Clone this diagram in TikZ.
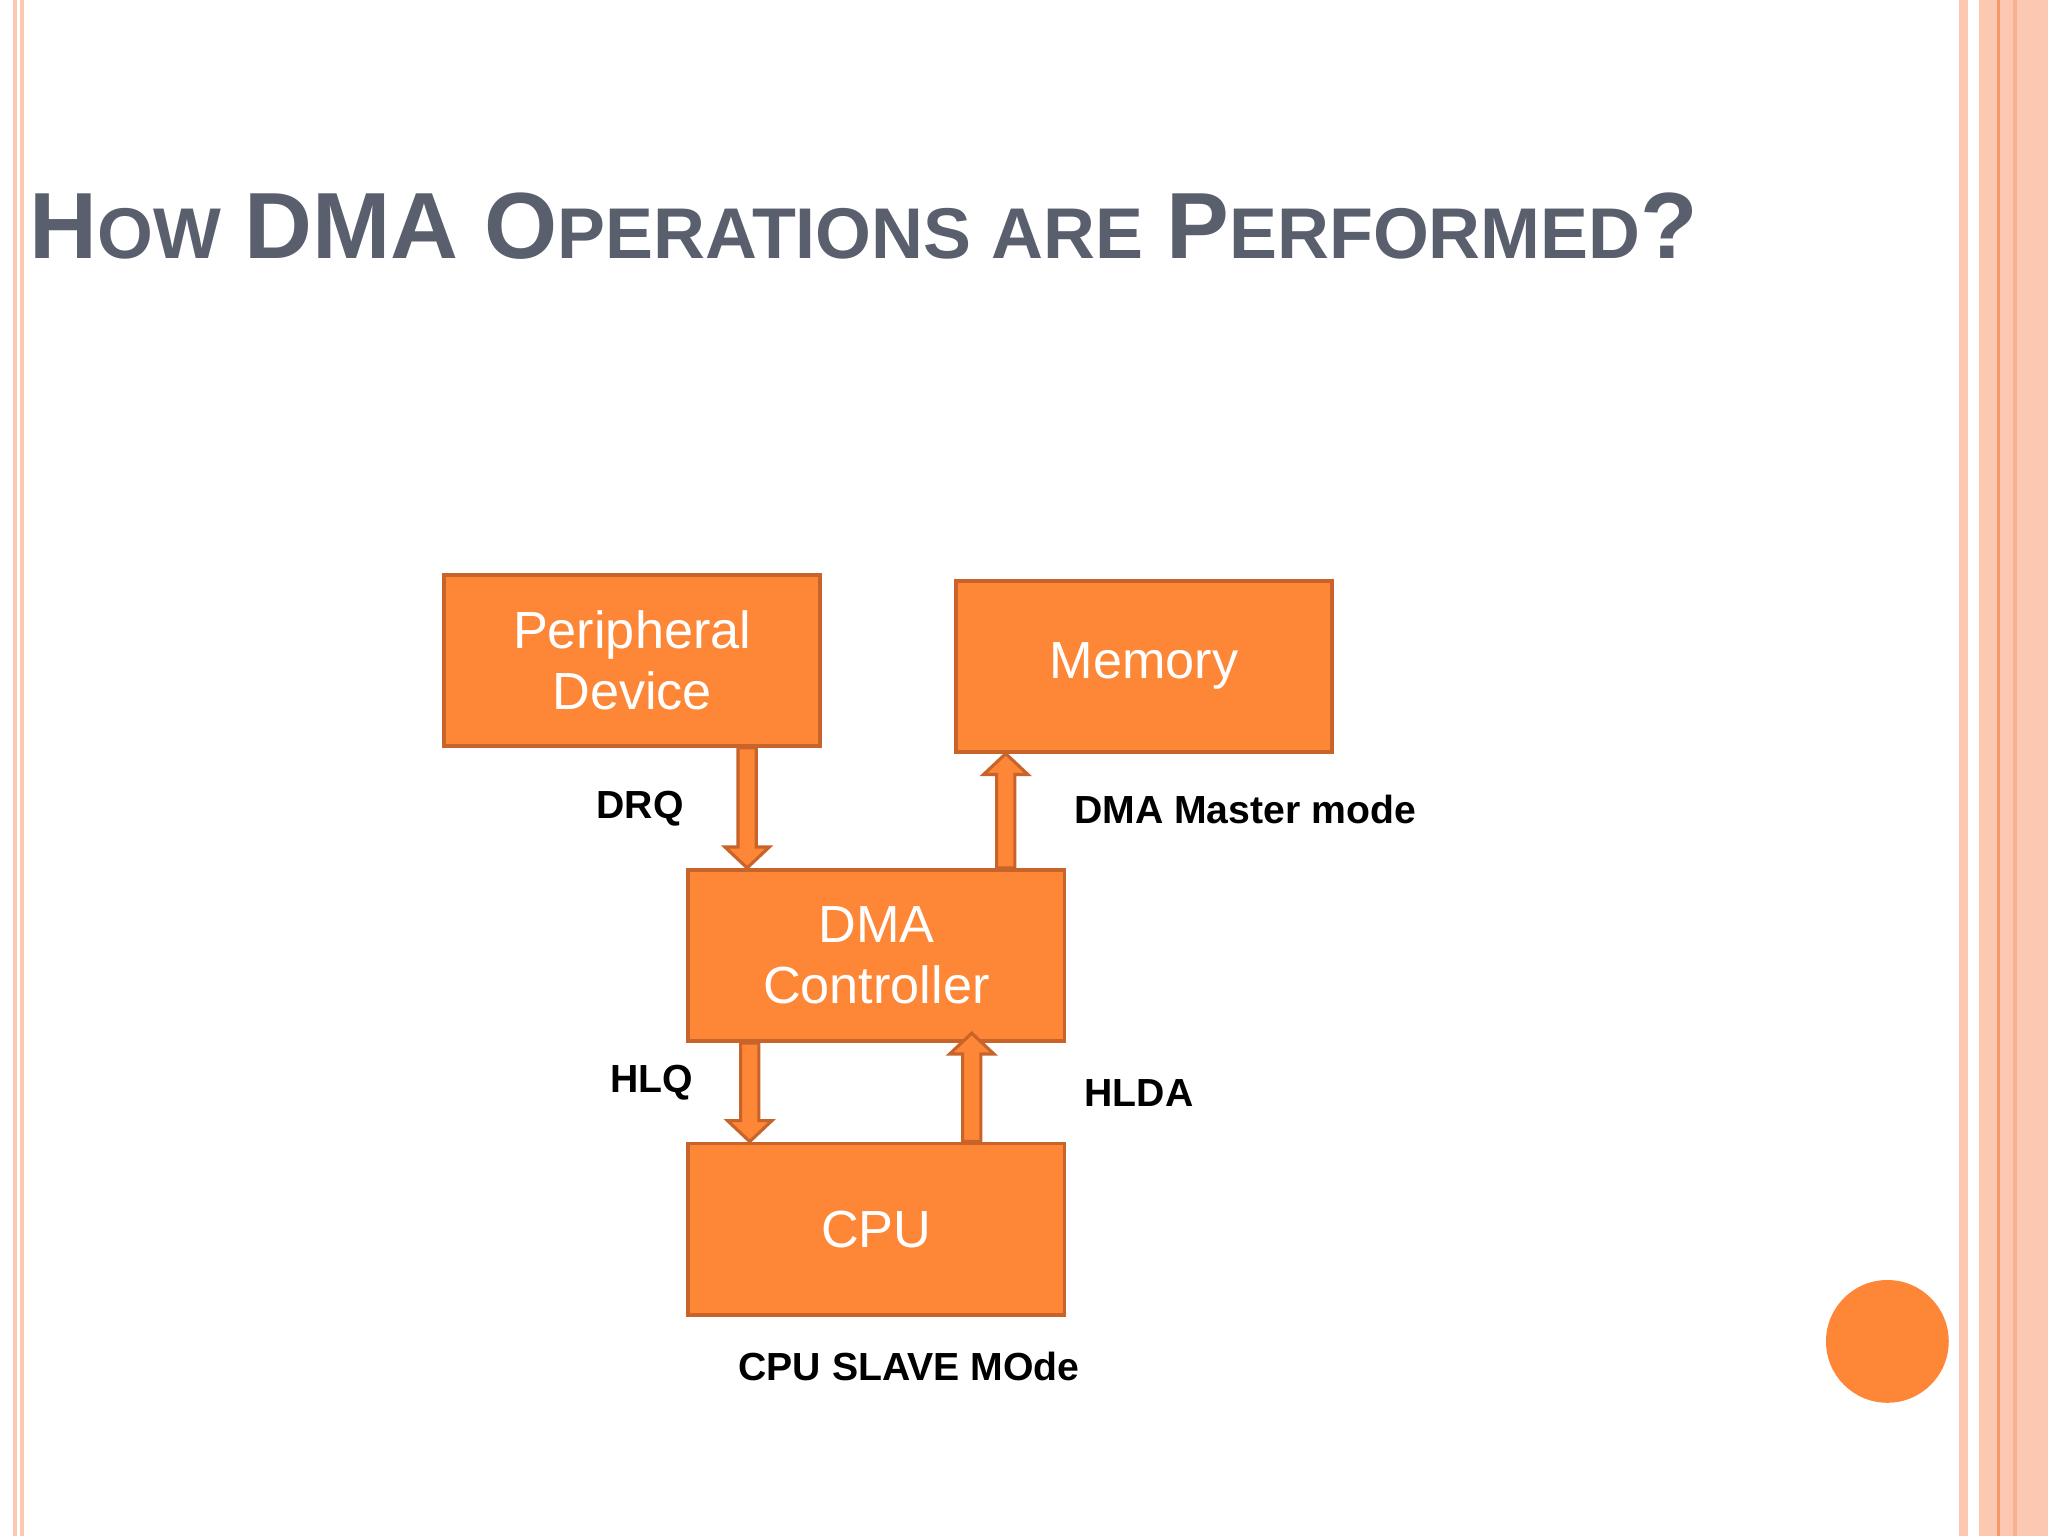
\documentclass[tikz,border=0pt]{standalone}
\usepackage{fontspec}
\setmainfont{Liberation Sans}
\usetikzlibrary{calc}
\definecolor{boxfill}{HTML}{FD8637}
\definecolor{boxline}{HTML}{C8642A}
\definecolor{titlec}{HTML}{5A5F6E}
\definecolor{stripe}{HTML}{FCC8B2}
\definecolor{stripeo}{HTML}{F59A6A}
\newcommand\BG[1]{{\fontsize{36}{36}\selectfont #1}}
\newcommand\SMc[1]{{\fontsize{27.5}{28}\selectfont #1}}
\newcommand\fatarr[2]{\draw[fat] let \p1=(#1), \p2=(#2), \n1={sign(\y2-\y1)} in
  (\x1-3.5pt,\y1) -- (\x1-3.5pt,{\y2-\n1*8pt}) -- (\x1-8.5pt,{\y2-\n1*8pt}) -- (\x1,\y2)
  -- (\x1+8.5pt,{\y2-\n1*8pt}) -- (\x1+3.5pt,{\y2-\n1*8pt}) -- (\x1+3.5pt,\y1) -- cycle;}
\begin{document}
\begin{tikzpicture}[x=0.5pt,y=-0.5pt,
  box/.style={draw=boxline,fill=boxfill,line width=1.5pt,minimum width=144pt,minimum height=65.5pt,
    text=white,font=\fontsize{20}{23.5}\selectfont,align=center,inner sep=0pt},
  fat/.style={draw=boxline,fill=boxfill,line width=1.2pt,line join=miter},
  lab/.style={font=\bfseries\fontsize{15}{17}\selectfont,text=black,inner sep=0pt}]
\useasboundingbox (0,0) rectangle (1568,1176);
\fill[white] (0,0) rectangle (1568,1176);
% stripes
\fill[stripe] (10,0) rectangle (13,1176);
\fill[stripe] (15,0) rectangle (18,1176);
\fill[stripe] (1500,0) rectangle (1507,1176);
\fill[stripe] (1515,0) rectangle (1568,1176);
\fill[stripeo] (1529,0) rectangle (1531,1176);
\fill[stripeo!50!stripe] (1541,0) rectangle (1544,1176);
% title
\node[anchor=base west,text=titlec,font=\bfseries,inner sep=0pt] (title) at (22,198)
 {\BG{H}\SMc{OW}\hspace{9pt}\BG{DMA O}\SMc{PERATIONS ARE}\hspace{9pt}\BG{P}\SMc{ERFORMED}\BG{?}};
% boxes
\node[box] (pd) at (484,505.5) {Peripheral\\Device};
\node[box] (mem) at (876,510) {Memory};
\node[box] (dma) at (671,731.5) {DMA\\Controller};
\node[box] (cpu) at (671,941) {CPU};
% arrows
\coordinate (a1) at (572,0);
\coordinate (a2) at (770,0);
\coordinate (a3) at (574,0);
\coordinate (a4) at (744,0);
\coordinate (a4e) at (744,791);
\fatarr{pd.south -| a1}{dma.north -| a1}
\fatarr{dma.north -| a2}{mem.south -| a2}
\fatarr{dma.south -| a3}{cpu.north -| a3}
\fatarr{cpu.north -| a4}{a4e}
% labels
\node[lab] (l1) at (490,619) {DRQ};
\node[lab,anchor=west] (l2) at (822,620) {DMA Master mode};
\node[lab] (l3) at (499,829) {HLQ};
\node[lab] (l4) at (872,837) {HLDA};
\node[lab] (l5) at (696,1046) {CPU SLAVE MOde};
% circle
\fill[boxfill] (1445,1027) circle (23.5pt);
\end{tikzpicture}
\end{document}
